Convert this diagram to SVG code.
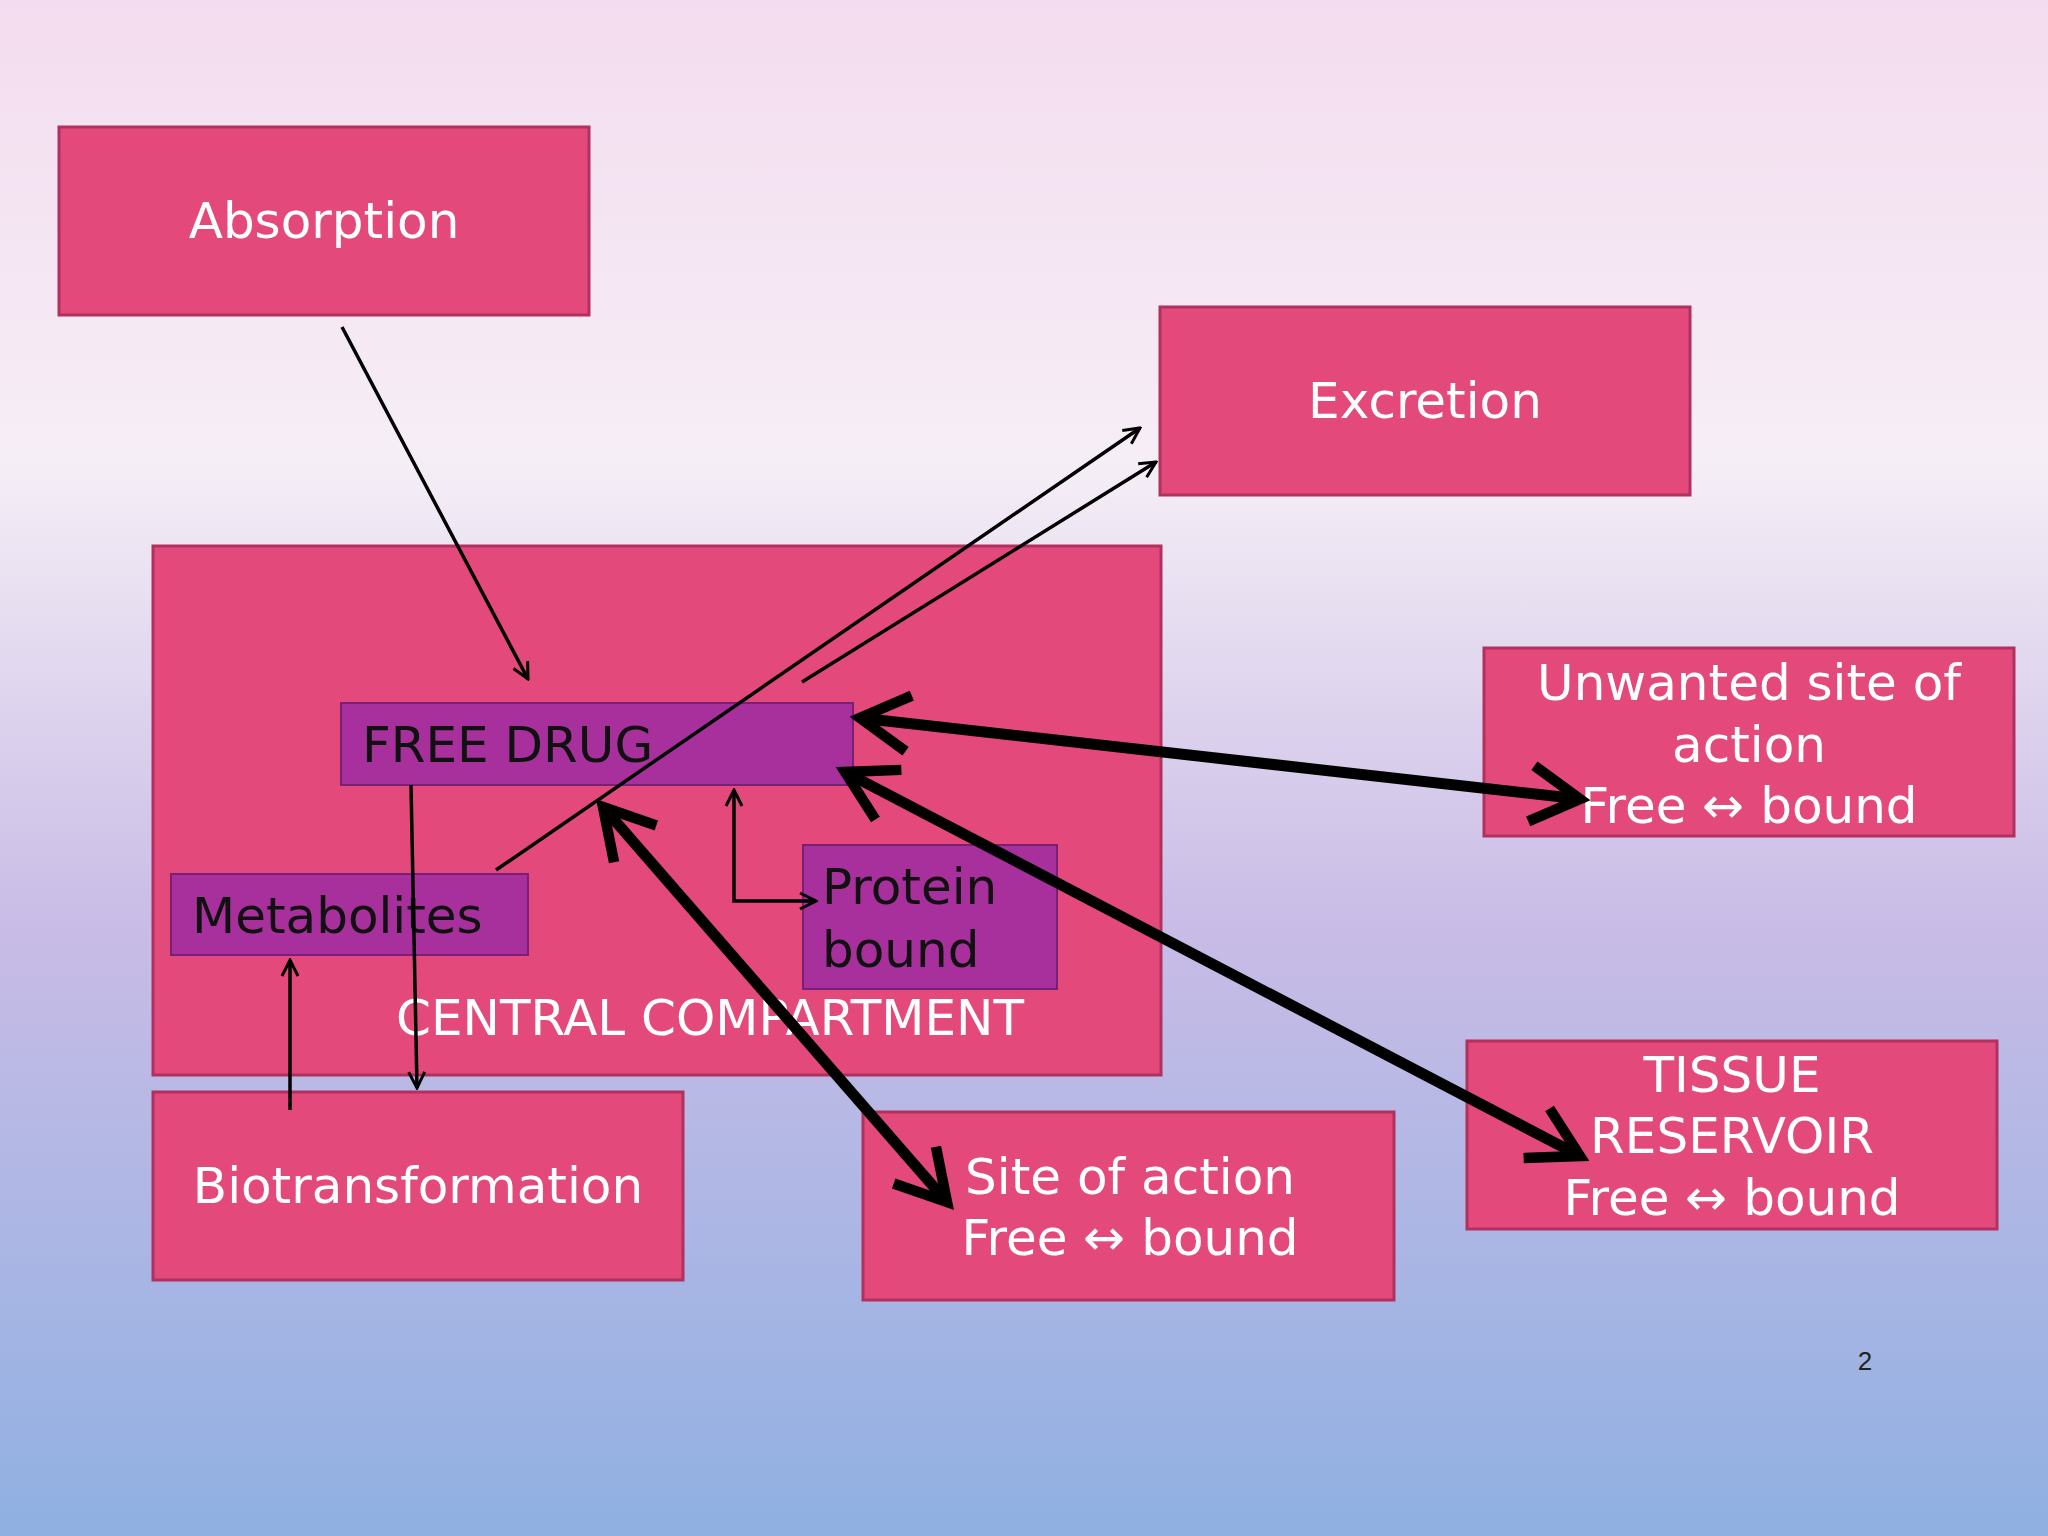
<svg xmlns="http://www.w3.org/2000/svg" width="2048" height="1536" viewBox="0 0 2048 1536">
<defs>
<linearGradient id="bg" x1="0" y1="0" x2="0" y2="1">
<stop offset="0" stop-color="#f3dcef"/><stop offset="0.3" stop-color="#f6eef6"/><stop offset="0.6" stop-color="#c9bce6"/><stop offset="1" stop-color="#8fb0e2"/>
</linearGradient>
<marker id="thin" viewBox="0 0 20 20" refX="18" refY="10" markerWidth="20" markerHeight="20" markerUnits="userSpaceOnUse" orient="auto-start-reverse"><path d="M2,2 L18,10 L2,18" fill="none" stroke="#000" stroke-width="3"/></marker>
<marker id="thick" viewBox="0 0 20 20" refX="17" refY="10" markerWidth="70" markerHeight="70" markerUnits="userSpaceOnUse" orient="auto-start-reverse"><path d="M3,2 L17,10 L3,18" fill="none" stroke="#000" stroke-width="3"/></marker>
</defs>
<style>
.box{fill:#e34a7b;stroke:#b0305e;stroke-width:3}
.pur{fill:#a8309c;stroke:#7a1f75;stroke-width:2}
.t{font-family:"DejaVu Sans",sans-serif;font-size:50px;fill:#fff;text-anchor:middle}
.k{font-family:"DejaVu Sans",sans-serif;font-size:50px;fill:#111}
.ln{stroke:#000;stroke-width:3.5;fill:none}
.tk{stroke:#000;stroke-width:11;fill:none}
</style>
<rect width="2048" height="1536" fill="url(#bg)"/>
<g id="central"><rect class="box" x="153" y="546" width="1008" height="529"/><text class="t" x="710" y="1035">CENTRAL COMPARTMENT</text></g>
<g id="absorption"><rect class="box" x="59" y="127" width="530" height="188"/><text class="t" x="324" y="238">Absorption</text></g>
<g id="excretion"><rect class="box" x="1160" y="307" width="530" height="188"/><text class="t" x="1425" y="418">Excretion</text></g>
<g id="unwanted"><rect class="box" x="1484" y="648" width="530" height="188"/><text class="t" x="1749" y="700">Unwanted site of</text><text class="t" x="1749" y="762">action</text><text class="t" x="1749" y="823">Free ↔ bound</text></g>
<g id="tissue"><rect class="box" x="1467" y="1041" width="530" height="188"/><text class="t" x="1732" y="1092">TISSUE</text><text class="t" x="1732" y="1153">RESERVOIR</text><text class="t" x="1732" y="1215">Free ↔ bound</text></g>
<g id="site"><rect class="box" x="863" y="1112" width="531" height="188"/><text class="t" x="1130" y="1194">Site of action</text><text class="t" x="1130" y="1255">Free ↔ bound</text></g>
<g id="biotrans"><rect class="box" x="153" y="1092" width="530" height="188"/><text class="t" x="418" y="1203">Biotransformation</text></g>
<g id="freedrug"><rect class="pur" x="341" y="703" width="512" height="82"/><text class="k" x="362" y="762">FREE DRUG</text></g>
<g id="metabolites"><rect class="pur" x="171" y="874" width="357" height="81" stroke="none"/><text class="k" x="192" y="933">Metabolites</text></g>
<g id="protein"><rect class="pur" x="803" y="845" width="254" height="144" stroke="none"/><text class="k" x="822" y="904">Protein</text><text class="k" x="822" y="967">bound</text></g>
<g id="connectors">
<line class="ln" x1="342" y1="327" x2="528" y2="679" marker-end="url(#thin)"/>
<line class="ln" x1="496" y1="870" x2="1140" y2="428" marker-end="url(#thin)"/>
<line class="ln" x1="802" y1="682" x2="1156" y2="462" marker-end="url(#thin)"/>
<line class="ln" x1="411" y1="785" x2="417" y2="1088" marker-end="url(#thin)"/>
<line class="ln" x1="290" y1="1110" x2="290" y2="960" marker-end="url(#thin)"/>
<polyline class="ln" points="734,790 734,901 816,901" marker-start="url(#thin)" marker-end="url(#thin)"/>
<line class="tk" x1="860" y1="718" x2="1580" y2="799" marker-start="url(#thick)" marker-end="url(#thick)"/>
<line class="tk" x1="845" y1="772" x2="1580" y2="1156" marker-start="url(#thick)" marker-end="url(#thick)"/>
<line class="tk" x1="603" y1="807" x2="947" y2="1202" marker-start="url(#thick)" marker-end="url(#thick)"/>
</g>
<text x="1865" y="1370" font-family="Liberation Sans,sans-serif" font-size="26" fill="#222" text-anchor="middle">2</text>
</svg>
